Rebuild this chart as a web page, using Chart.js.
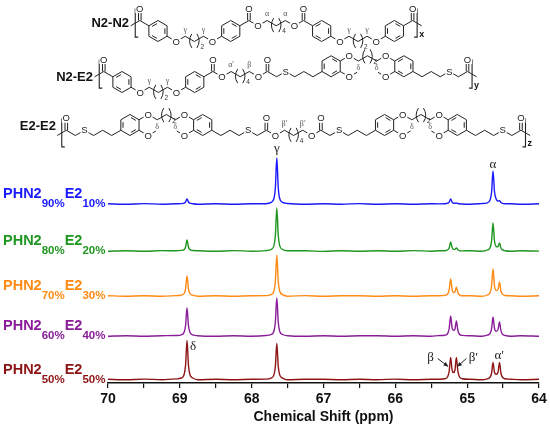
<!DOCTYPE html>
<html>
<head>
<meta charset="utf-8">
<script src="https://cdn.jsdelivr.net/npm/chart.js@4.4.1/dist/chart.umd.min.js"></script>
<style>
  html, body { margin: 0; padding: 0; background: #fff; }
  #wrap { width: 550px; height: 427px; }
</style>
</head>
<body>
<div id="wrap"><canvas id="nmr" width="550" height="427"></canvas></div>
<script>
// chemical shift grid (ppm), shared by all five spectra
const ppm = [
  70, 69.75, 69.5, 69.25, 69.05,
  68.98, 68.94, 68.92, 68.90, 68.88, 68.86, 68.82,
  68.75, 68.5, 68.25, 68.0, 67.8,
  67.73, 67.69, 67.67, 67.65, 67.63, 67.61, 67.57,
  67.5, 67.25, 67.0, 66.75, 66.5, 66.25, 66.0, 65.75, 65.5, 65.4,
  65.31, 65.27, 65.25, 65.23, 65.21, 65.19, 65.17, 65.15, 65.13, 65.11, 65.07,
  64.95, 64.8,
  64.72, 64.68, 64.66, 64.64, 64.62, 64.595, 64.57, 64.55, 64.53, 64.51, 64.47,
  64.4, 64.25, 64.0
];

// intensities (arbitrary units)
const phn2_90 = [
  0.2, -0.3, 0.4, -0.2, 0.3,
  0.4, 0.9, 2.0, 5, 2.0, 0.9, 0.3,
  -0.2, 0.3, -0.3, 0.2, 0.3,
  1.6, 5.5, 16.5, 46, 16.5, 5.5, 1.6,
  0.5, -0.3, 0.3, -0.2, 0.4, -0.3, 0.2, -0.2, 0.3, 0.1,
  0.2, 0.8, 1.9, 5, 1.9, 0.9, 0.7, 1, 0.5, 0.2, 0,
  -0.2, 0.4,
  1.2, 4.2, 12, 33, 12.5, 4.8, 3.0, 3.2, 1.5, 0.6, 0.2,
  0.2, -0.3, 0.2
];
const phn2_80 = [
  -0.2, 0.3, -0.3, 0.4, 0.2,
  0.6, 1.4, 4.0, 11, 4.0, 1.4, 0.5,
  0.3, -0.3, 0.4, -0.2, 0.4,
  1.5, 5.3, 15.5, 43, 15.5, 5.3, 1.5,
  0.3, 0.2, -0.4, 0.3, -0.2, 0.3, -0.3, 0.4, -0.2, 0.3,
  0.3, 1.2, 3.3, 9, 3.5, 1.6, 1.6, 3, 1.2, 0.4, 0.1,
  0.3, -0.2,
  1.0, 3.6, 10.2, 28, 10.5, 4.5, 4.2, 8, 3, 1.1, 0.3,
  -0.2, 0.3, -0.1
];
const phn2_70 = [
  0.3, -0.2, 0.3, -0.3, 0.4,
  0.8, 2.5, 7.2, 20, 7.2, 2.5, 0.8,
  -0.2, 0.3, -0.3, 0.3, 0.4,
  1.4, 5.0, 14.8, 41, 14.8, 5.0, 1.4,
  -0.2, 0.4, -0.3, 0.2, 0.3, -0.3, 0.2, -0.3, 0.3, 0.2,
  0.6, 2.1, 6.3, 17, 6.7, 3.5, 4.2, 9, 3.4, 1.1, 0.3,
  0.2, -0.3,
  1.0, 3.5, 10, 27, 10.5, 5.5, 6.5, 14, 5.2, 1.8, 0.5,
  0.3, -0.2, 0.2
];
const phn2_60 = [
  -0.3, 0.3, -0.2, 0.3, 0.5,
  1.2, 3.8, 10.5, 28, 10.5, 3.8, 1.2,
  0.3, -0.3, 0.2, -0.2, 0.5,
  1.5, 4.8, 14, 38, 14, 4.8, 1.5,
  0.3, -0.3, 0.3, -0.2, 0.2, 0.3, -0.3, 0.2, -0.2, 0.4,
  0.8, 2.6, 7.5, 20, 8.2, 5.6, 6.8, 15, 5.8, 2, 0.6,
  0.3, -0.2,
  0.8, 2.6, 7.3, 19, 7.8, 4.6, 6.6, 14, 5.3, 1.8, 0.5,
  -0.2, 0.3, -0.2
];
const phn2_50 = [
  0.2, -0.3, 0.4, -0.2, 0.6,
  1.5, 5.0, 14.5, 39, 14.5, 5.0, 1.5,
  -0.2, 0.3, -0.3, 0.3, 0.4,
  1.4, 4.6, 13.2, 36, 13.2, 4.6, 1.4,
  -0.3, 0.3, 0.2, -0.3, 0.3, -0.2, 0.4, -0.3, 0.2, 0.3,
  0.8, 3, 8.5, 22, 9.5, 7, 9.5, 22, 8.5, 3, 0.8,
  0.2, -0.3,
  0.7, 2.3, 6.5, 17, 7.2, 5.2, 7.2, 17, 6.5, 2.3, 0.7,
  0.3, -0.2, 0.2
];

const spectra = [phn2_90, phn2_80, phn2_70, phn2_60, phn2_50];
const offsets = [179, 132, 87, 47, 3.5];   // vertical stacking of the traces
const n2Share = ['90%', '80%', '70%', '60%', '50%'];
const e2Share = ['10%', '20%', '30%', '40%', '50%'];
const tickLabels = [70, 69, 68, 67, 66, 65, 64];
const colors = ['#1a1aff', '#1f961f', '#ff8a14', '#8a1c9a', '#8c1414'];

const SANS = '"Liberation Sans", Arial, sans-serif';
const SERIF = '"Liberation Serif", "Times New Roman", serif';

// ---------- skeletal formulas drawn at the top ----------
const BOND = 10.5, SX = BOND * Math.cos(Math.PI / 6), SY = BOND / 2;

const n2n2 = ['CO','R','O','Cγ','P2','Cγ','O','R','CO','O','Cα','P4','Cα','O','CO','R','O','Cγ','P2','Cγ','O','R','CO'];
const n2e2 = ['CO','R','O','Cγ','P2','Cγ','O','R','CO','O','Cα′','P4','Cβ','O','CO','C','S','C','C','C',
              'RA','O','Cδ','P2','Cδ','O','RB','C','C','C','S','C','CO'];
const e2e2 = ['CO','C','S','C','C','C','RA','O','Cδ','P2','Cδ','O','RB','C','C','C','S','C','CO',
              'O','Cβ′','P4','Cβ′','O','CO','C','S','C','C','C','RA','O','Cδ','P2','Cδ','O','RB','C','C','C','S','C','CO'];

function line(ctx, x1, y1, x2, y2) {
  ctx.beginPath(); ctx.moveTo(x1, y1); ctx.lineTo(x2, y2); ctx.stroke();
}

function drawChain(ctx, tokens, sx, sy, sub) {
  let x = sx, y = sy, dir = -1;
  const atoms = [], notes = [], parens = [], rings = [];
  const step = () => [x + SX, y + dir * SY];
  ctx.strokeStyle = '#222';
  ctx.lineWidth = 1;

  let p = step();
  const bx0 = (x + p[0]) / 2, by0 = (y + p[1]) / 2;

  for (const t of tokens) {
    if (t[0] === 'R') {
      const [ex, ey] = step();
      line(ctx, x, y, ex, ey);
      const cx = ex + SX, cy = ey + dir * SY;
      rings.push({ cx, cy, th: dir * Math.PI / 6, kind: t });
      x = cx + SX; y = cy + dir * SY;
      continue;
    }
    const [nx, ny] = step();
    line(ctx, x, y, nx, ny);
    const hi = dir < 0;
    if (t === 'O' || t === 'S') atoms.push([t, nx, ny]);
    if (t === 'CO') {
      line(ctx, nx - 1.3, ny, nx - 1.3, ny - BOND);
      line(ctx, nx + 1.3, ny, nx + 1.3, ny - BOND);
      atoms.push(['O', nx, ny - BOND - 1.5]);
    } else if (t[0] === 'C' && t.length > 1) {
      notes.push([t.slice(1), nx, hi ? ny - 6.5 : ny + 7]);
    }
    if (t[0] === 'P') parens.push({ x: nx, y: ny, hi, n: t.slice(1) });
    x = nx; y = ny; dir = -dir;
  }
  p = step();
  line(ctx, x, y, p[0], p[1]);
  const bx1 = (x + p[0]) / 2, by1 = (y + p[1]) / 2;

  // rings
  for (const r of rings) {
    const v = [];
    for (let k = 0; k < 6; k++) {
      const a = r.th + k * Math.PI / 3;
      v.push([r.cx + BOND * Math.cos(a), r.cy + BOND * Math.sin(a)]);
    }
    ctx.beginPath();
    v.forEach((q, i) => i ? ctx.lineTo(q[0], q[1]) : ctx.moveTo(q[0], q[1]));
    ctx.closePath(); ctx.stroke();
    for (const k of [1, 3, 5]) {
      const a = v[k], b = v[(k + 1) % 6];
      const ia = [r.cx + (a[0] - r.cx) * 0.76, r.cy + (a[1] - r.cy) * 0.76];
      const ib = [r.cx + (b[0] - r.cx) * 0.76, r.cy + (b[1] - r.cy) * 0.76];
      const s = 0.15;
      line(ctx, ia[0] + (ib[0] - ia[0]) * s, ia[1] + (ib[1] - ia[1]) * s,
                ib[0] - (ib[0] - ia[0]) * s, ib[1] - (ib[1] - ia[1]) * s);
    }
    if (r.kind !== 'R') {
      const k = r.kind === 'RA' ? 1 : 2;
      const a = r.th + k * Math.PI / 3;
      const ox = v[k][0] + BOND * Math.cos(a), oy = v[k][1] + BOND * Math.sin(a);
      line(ctx, v[k][0], v[k][1], ox, oy);
      const sa = r.kind === 'RA' ? -Math.PI / 6 : Math.PI * 7 / 6;
      line(ctx, ox, oy, ox + BOND * 0.85 * Math.cos(sa), oy + BOND * 0.85 * Math.sin(sa));
      atoms.push(['O', ox, oy]);
    }
  }

  // parentheses around repeated CH2
  ctx.font = '6.5px ' + SANS;
  ctx.fillStyle = '#333';
  ctx.textAlign = 'left'; ctx.textBaseline = 'middle';
  for (const q of parens) {
    const my = q.y + (q.hi ? SY / 2 : -SY / 2) + (q.hi ? -2 : 2);
    const lx = q.x - SX / 2, rx = q.x + SX / 2;
    ctx.beginPath(); ctx.moveTo(lx + 2, my - 7); ctx.quadraticCurveTo(lx - 2.5, my, lx + 2, my + 7); ctx.stroke();
    ctx.beginPath(); ctx.moveTo(rx - 2, my - 7); ctx.quadraticCurveTo(rx + 2.5, my, rx - 2, my + 7); ctx.stroke();
    ctx.fillText(q.n, rx + 1.5, my + 6);
  }

  // brackets
  ctx.lineWidth = 1.1;
  ctx.beginPath(); ctx.moveTo(bx0 + 3, by0 - 14); ctx.lineTo(bx0, by0 - 14); ctx.lineTo(bx0, by0 + 14); ctx.lineTo(bx0 + 3, by0 + 14); ctx.stroke();
  ctx.beginPath(); ctx.moveTo(bx1 - 3, by1 - 14); ctx.lineTo(bx1, by1 - 14); ctx.lineTo(bx1, by1 + 14); ctx.lineTo(bx1 - 3, by1 + 14); ctx.stroke();
  ctx.font = 'bold 9px ' + SANS;
  ctx.fillStyle = '#111';
  ctx.fillText(sub, bx1 + 2, by1 + 11);

  // heteroatoms
  ctx.font = '9.5px ' + SANS;
  ctx.textAlign = 'center';
  for (const [t, ax, ay] of atoms) {
    const w = ctx.measureText(t).width;
    ctx.fillStyle = '#fff';
    ctx.fillRect(ax - w / 2 - 0.8, ay - 4.5, w + 1.6, 9);
    ctx.fillStyle = '#1a1a1a';
    ctx.fillText(t, ax, ay + 0.5);
  }
  // proton labels on the chains
  ctx.font = '8px ' + SERIF;
  ctx.fillStyle = '#555';
  for (const [t, ax, ay] of notes) ctx.fillText(t, ax, ay);
}

const structurePlugin = {
  id: 'structures',
  afterDraw(chart) {
    const ctx = chart.ctx;
    ctx.save();
    drawChain(ctx, n2n2, 130.7, 25.75, 'x');
    drawChain(ctx, n2e2, 94.7, 76.75, 'y');
    drawChain(ctx, e2e2, 57.2, 135.5, 'z');
    ctx.font = 'bold 13px ' + SANS;
    ctx.fillStyle = '#111';
    ctx.textAlign = 'right'; ctx.textBaseline = 'alphabetic';
    ctx.fillText('N2-N2', 129, 27);
    ctx.fillText('N2-E2', 93, 81);
    ctx.fillText('E2-E2', 56, 130);
    ctx.restore();
  }
};

// ---------- trace names and peak assignments ----------
const labelPlugin = {
  id: 'traceLabels',
  afterDatasetsDraw(chart) {
    const ctx = chart.ctx, ys = chart.scales.y, xs = chart.scales.x;
    ctx.save();
    ctx.textAlign = 'left'; ctx.textBaseline = 'alphabetic';
    spectra.forEach((s, i) => {
      const y0 = ys.getPixelForValue(offsets[i]);
      let x = 3;
      const parts = [['PHN2', 14.5, -6], [n2Share[i], 11.5, 3], ['E2', 14.5, -6], [e2Share[i], 11.5, 3]];
      ctx.fillStyle = colors[i];
      for (const [t, sz, dy] of parts) {
        ctx.font = 'bold ' + sz + 'px ' + SANS;
        ctx.fillText(t, x, y0 + dy);
        x += ctx.measureText(t).width;
      }
    });

    ctx.fillStyle = '#222';
    ctx.font = '13px ' + SERIF;
    ctx.textAlign = 'center'; ctx.textBaseline = 'middle';
    const top = ys.getPixelForValue(offsets[0]);
    const bot = ys.getPixelForValue(offsets[4]);
    ctx.fillText('γ', xs.getPixelForValue(67.65), top - 55);
    ctx.fillText('α', xs.getPixelForValue(64.64), top - 39);
    ctx.fillText('δ', xs.getPixelForValue(68.9) + 6, bot - 33);
    const xb = xs.getPixelForValue(65.23), xb2 = xs.getPixelForValue(65.15);
    ctx.fillText('β', xb - 20, bot - 22);
    ctx.fillText('β′', xb2 + 17, bot - 22);
    ctx.fillText('α′', xs.getPixelForValue(64.595) + 3, bot - 24);

    const arrow = (x1, y1, x2, y2) => {
      ctx.strokeStyle = '#222'; ctx.lineWidth = 1;
      line(ctx, x1, y1, x2, y2);
      const a = Math.atan2(y2 - y1, x2 - x1);
      ctx.beginPath();
      ctx.moveTo(x2, y2);
      ctx.lineTo(x2 - 5 * Math.cos(a - 0.45), y2 - 5 * Math.sin(a - 0.45));
      ctx.lineTo(x2 - 5 * Math.cos(a + 0.45), y2 - 5 * Math.sin(a + 0.45));
      ctx.closePath(); ctx.fill();
    };
    arrow(xb - 13, bot - 21, xb - 2.5, bot - 13);
    arrow(xb2 + 10, bot - 21, xb2 + 1, bot - 13);
    ctx.restore();
  }
};

new Chart(document.getElementById('nmr'), {
  type: 'line',
  data: {
    datasets: spectra.map((s, i) => ({
      data: ppm.map((p, j) => ({ x: p, y: s[j] + offsets[i] })),
      borderColor: colors[i],
      borderWidth: 1.4,
      pointRadius: 0,
      fill: false,
      cubicInterpolationMode: 'monotone',
      clip: false
    }))
  },
  options: {
    responsive: false,
    animation: false,
    layout: { padding: { left: 108, right: 11, top: 145, bottom: 0 } },
    plugins: { legend: { display: false }, tooltip: { enabled: false } },
    scales: {
      x: {
        type: 'linear',
        reverse: true,
        min: 64,
        max: 70,
        afterFit: (scale) => { scale.height = 44; },
        border: { display: true, color: '#111', width: 1.5 },
        grid: { drawOnChartArea: false, drawTicks: true, tickLength: 5, color: '#111', lineWidth: 1.2 },
        ticks: {
          stepSize: 0.5,
          autoSkip: false,
          maxRotation: 0,
          padding: 3,
          color: '#111',
          font: { family: SANS, size: 14, weight: 'bold' },
          callback: (v) => tickLabels.includes(v) ? String(v) : ''
        },
        title: {
          display: true,
          text: 'Chemical Shift (ppm)',
          color: '#111',
          padding: { top: 0, bottom: 1 },
          font: { family: SANS, size: 14, weight: 'bold' }
        }
      },
      y: { display: false, min: 0, max: 238 }
    }
  },
  plugins: [structurePlugin, labelPlugin]
});
</script>
</body>
</html>
